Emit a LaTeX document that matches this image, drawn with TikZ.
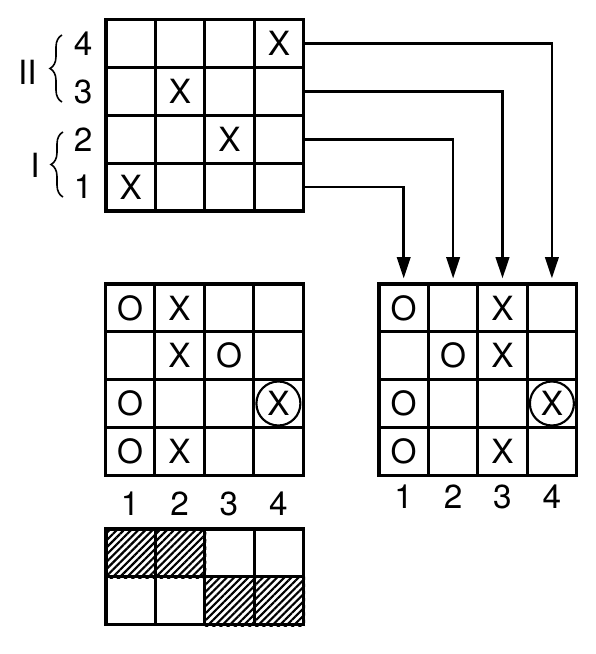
\documentclass[tikz,border=0pt]{standalone}
\usepackage{fontspec}
\setmainfont{TeX Gyre Heros}
\usetikzlibrary{arrows.meta,patterns.meta,decorations.pathreplacing,positioning}

\tikzset{every picture/.style={line width=0.75pt}}
\tikzset{
  cell/.style={draw, line width=2.3pt, minimum width=37.05pt, minimum height=35.85pt, inner sep=0pt},
  lab/.style={inner sep=0.75pt, font=\fontsize{25}{27}\selectfont},
  ring/.style={lab, circle, draw, line width=1.6pt, minimum size=33pt, inner sep=0pt},
  hatched/.style={pattern={Lines[angle=45,distance=3.8pt,line width=1.6pt]}},
  link/.style={line width=2pt, -{Triangle[length=16pt,width=10pt]}, shorten >=3pt},
  curly/.style={line width=1.2pt, decorate, decoration={brace, amplitude=9pt}}
}

\begin{document}
\begin{tikzpicture}[x=0.75pt,y=0.75pt,yscale=-1,xscale=1]
    \useasboundingbox (0,0) rectangle (596,654);
    %Top grid, rows counted from the bottom
    \foreach \r in {1,...,4}
      \foreach \c in {1,...,4}
        \node[cell] (T-\r-\c) at ({106+49.4*(\c-0.5)},{211-47.8*(\r-0.5)}) {};
    \foreach \r/\c in {4/4,3/2,2/3,1/1}
      \node[lab] (TX-\r) at (T-\r-\c) {X};
    \foreach \r in {1,...,4}
      \node[lab, left=8pt of T-\r-1] (TN-\r) {\r};
    % Braces
    \draw[curly] (62,102) -- (62,35);
    \draw[curly] (63,197) -- (63,132);
    \draw (27.5,72) node [lab] (II) {II};
    \draw (35,165) node [lab] (I) {I};

    %Left grid
    \foreach \i in {1,...,4}
      \foreach \c in {1,...,4}
        \node[cell] (L-\i-\c) at ({105.5+49.4*(\c-0.5)},{284+47.8*(\i-0.5)}) {};
    \foreach \i/\c/\t in {1/1/O,1/2/X,2/2/X,2/3/O,3/1/O,4/1/O,4/2/X}
      \node[lab] (LM-\i-\c) at (L-\i-\c) {\t};
    \node[ring] (LC) at (L-3-4) {X};
    \foreach \c in {1,...,4}
      \node[lab, below=10pt of L-4-\c] (LN-\c) {\c};

    %Right grid
    \foreach \i in {1,...,4}
      \foreach \c in {1,...,4}
        \node[cell] (R-\i-\c) at ({379+49.4*(\c-0.5)},{284+47.8*(\i-0.5)}) {};
    \foreach \i/\c/\t in {1/1/O,1/3/X,2/2/O,2/3/X,3/1/O,4/1/O,4/3/X}
      \node[lab] (RM-\i-\c) at (R-\i-\c) {\t};
    \node[ring] (RC) at (R-3-4) {X};
    \foreach \c in {1,...,4}
      \node[lab, below=5pt of R-4-\c] (RN-\c) {\c};

    %Bottom grid
    \foreach \i in {1,2}
      \foreach \c in {1,...,4}
        \node[cell] (B-\i-\c) at ({106+49.4*(\c-0.5)},{529+47.8*(\i-0.5)}) {};
    \foreach \i/\c in {1/1,1/2,2/3,2/4}
      \path[hatched] (B-\i-\c.south west) rectangle (B-\i-\c.north east);

    %Connectors
    \foreach \r in {1,...,4}
      \draw[link] (T-\r-4.east) -| (R-1-\r.north);
\end{tikzpicture}
\end{document}
